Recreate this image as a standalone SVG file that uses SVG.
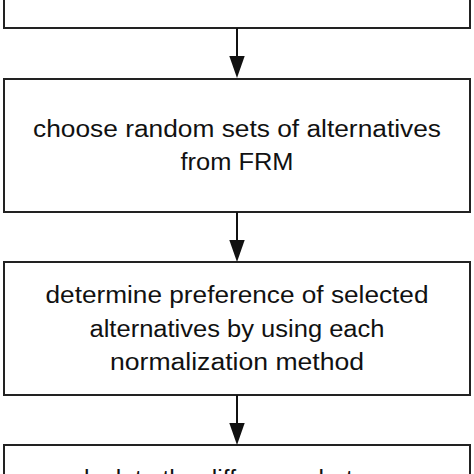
<svg xmlns="http://www.w3.org/2000/svg" width="474" height="474" viewBox="0 0 474 474">
<style>
.box{fill:#fff;stroke:#222;stroke-width:2}
.lbl{font-family:"Liberation Sans","Noto Sans",Arial,sans-serif;font-size:23px;fill:#111;text-anchor:middle}
.edge{stroke:#111;stroke-width:2;fill:none}
.head{fill:#111}
</style>
<rect width="474" height="474" fill="#fff"/>
<g id="node1"><rect class="box" x="4" y="-10" width="466" height="38"/></g>
<g id="node2"><rect class="box" x="4" y="79" width="466" height="133"/>
<text class="lbl" x="237" y="137" textLength="408" lengthAdjust="spacingAndGlyphs">choose random sets of  alternatives</text>
<text class="lbl" x="237" y="170" textLength="113" lengthAdjust="spacingAndGlyphs">from FRM</text></g>
<g id="node3"><rect class="box" x="4" y="262" width="466" height="133"/>
<text class="lbl" x="237" y="303" textLength="383" lengthAdjust="spacingAndGlyphs">determine preference of selected</text>
<text class="lbl" x="237" y="337" textLength="295" lengthAdjust="spacingAndGlyphs">alternatives by using each</text>
<text class="lbl" x="237" y="370" textLength="254" lengthAdjust="spacingAndGlyphs">normalization method</text></g>
<g id="node4"><rect class="box" x="4" y="445" width="466" height="60"/>
<text class="lbl" x="235" y="487" textLength="354" lengthAdjust="spacingAndGlyphs">calculate the difference between</text></g>
<g id="connectors">
<line class="edge" x1="237" y1="28" x2="237" y2="58"/><polygon class="head" points="229.3,56 244.7,56 237,78"/>
<line class="edge" x1="237" y1="212" x2="237" y2="242"/><polygon class="head" points="229.3,240 244.7,240 237,262"/>
<line class="edge" x1="237" y1="395" x2="237" y2="425"/><polygon class="head" points="229.3,423 244.7,423 237,445"/>
</g>
</svg>
